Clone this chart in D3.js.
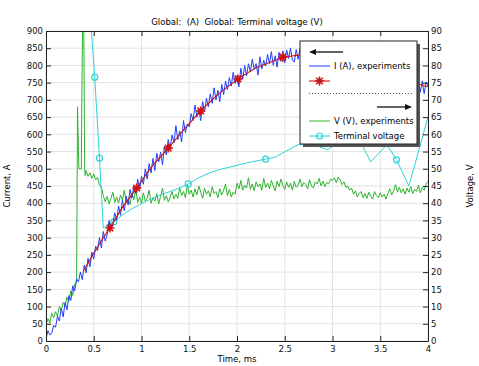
<!DOCTYPE html>
<html>
<head>
<meta charset="utf-8">
<script src="https://cdn.jsdelivr.net/npm/d3@7"></script>
<style>
  body { margin: 0; background: #fff; }
  svg { font-family: "DejaVu Sans", sans-serif; }
</style>
</head>
<body>
<svg id="chart" width="479" height="366"></svg>
<script>
// sample step of the experimental traces, ms
const tStep = 0.02;

// I (A), experiments: one value every 0.02 ms from 0 to 4 ms
const iExp = [
  5, 30, 18, 22, 45,      40, 72, 58, 95, 70,
  112, 90, 132, 118, 160, 145, 180, 172, 200, 178,
  220, 198, 240, 215, 258, 238, 275, 262, 300, 270,
  318, 290, 308, 350, 322, 340, 372, 350, 392, 365,
  408, 378, 420, 395, 440, 415, 450, 428, 470, 440,
  478, 455, 500, 470, 515, 488, 530, 495, 545, 520,
  548, 512, 565, 540, 585, 560, 598, 575, 625, 585,
  610, 578, 640, 605, 630, 622, 660, 640, 685, 650,
  672, 640, 695, 665, 705, 680, 718, 690, 735, 700,
  728, 695, 745, 715, 755, 730, 765, 740, 780, 748,
  770, 738, 792, 760, 800, 770, 805, 782, 818, 790,
  805, 772, 825, 790, 815, 798, 832, 805, 840, 800,
  828, 795, 838, 812, 842, 808, 845, 820, 850, 815,
  810, 846, 818, 850, 822, 848, 812, 852, 820, 846,
  815, 850, 822, 848, 810, 845, 808, 842, 812, 838,
  805, 840, 810, 835, 800, 832, 795, 828, 800, 822,
  790, 825, 795, 818, 782, 815, 778, 810, 782, 805,
  770, 805, 775, 798, 762, 795, 758, 790, 762, 785,
  750, 785, 755, 778, 742, 775, 738, 770, 742, 768,
  732, 765, 738, 760, 728, 758, 722, 755, 718, 752,
  740
];

// V (V), experiments: 0 .. 0.30 ms, every 0.02 ms
const vEarly = [4.5, 6.5, 5.2, 8.0, 6.8, 8.5, 7.2, 10.0, 8.8, 11.2, 10.0, 12.8, 11.5, 14.5, 13.2, 16.5];
// switching spike
const vSpikeT = [0.32, 0.325, 0.33, 0.34, 0.345, 0.37, 0.375, 0.385, 0.395, 0.405, 0.41];
const vSpikeV = [17, 40, 68, 55, 50, 50, 70, 96, 96, 50, 48];
// 0.42 .. 4.00 ms, every 0.02 ms
const vLateStart = 0.42;
const vLate = [
  49.5, 47.8, 48.8, 47.2, 48.5, 46.8, 47.5, 45.2, 44.8,
  42.2, 40.4, 42.0, 39.8, 41.4, 43.2, 40.2, 41.8, 40.0, 42.4, 40.8, 43.8, 40.4, 41.2, 39.6, 42.8, 41.0, 44.2, 40.2, 41.8,
  40.0, 43.0, 40.6, 41.4, 43.8, 40.0, 41.6, 40.6, 42.8, 39.8, 42.0, 44.4, 40.8, 42.2, 40.4, 41.8, 43.4, 41.2, 42.6, 41.4,
  44.6, 42.2, 43.4, 41.6, 45.4, 42.6, 43.8, 41.8, 44.2, 42.4, 45.0, 43.2, 41.4, 44.4, 42.6, 43.6, 41.8, 44.8, 42.8, 43.4,
  41.6, 44.2, 42.4, 43.8, 45.6, 42.2, 44.0, 41.8, 43.2, 42.6, 45.8, 44.2, 46.6, 43.8, 45.2, 44.4, 47.4, 44.0, 45.6, 43.6,
  46.2, 44.8, 45.6, 43.8, 47.2, 44.6, 45.8, 44.2, 46.6, 45.0, 43.6, 46.4, 44.8, 47.0, 45.2, 44.0, 46.2, 44.6, 45.8, 43.8,
  46.4, 44.6, 45.2, 47.0, 44.8, 46.0, 45.4, 44.2, 46.8, 45.0, 44.4, 46.2, 45.6, 47.2, 45.0, 46.4, 44.8, 46.0, 45.6, 47.0,
  46.6, 47.4, 46.0, 47.6, 46.8, 45.4, 46.2, 44.6, 45.0, 43.8, 44.4, 42.6, 43.6, 41.8, 42.8, 43.4, 41.6, 42.8, 41.4, 43.2,
  42.0, 41.2, 43.4, 42.2, 41.6, 43.0, 41.8, 42.6, 41.2, 42.8, 44.2, 42.4, 43.6, 45.4, 43.2, 44.6, 43.0, 44.2, 42.6, 44.4,
  43.2, 44.8, 42.8, 44.0, 43.4, 45.2, 43.0, 44.6, 43.8, 45.6, 46.4
];

// model current (red, left axis)
const iModelT = [0.40, 0.50, 0.60, 0.67, 0.80, 0.95, 1.10, 1.28, 1.45, 1.62, 1.80, 2.01, 2.20, 2.48, 2.70, 3.00, 3.30, 3.60, 4.00];
const iModel  = [206, 255, 300, 328, 388, 444, 504, 560, 616, 668, 716, 761, 793, 824, 832, 826, 800, 770, 738];
const iModelMarks = [3, 5, 7, 9, 11, 13, 15];

// Terminal voltage (cyan, right axis)
const termT = [0.45, 0.51, 0.56, 0.60, 0.71, 0.80, 0.90, 1.00, 1.10, 1.20, 1.30, 1.40, 1.49, 1.60, 1.72, 1.85, 2.00, 2.15, 2.30, 2.40, 2.64, 2.80, 2.95, 3.10, 3.25, 3.40, 3.57, 3.67, 3.80, 4.00];
const termV = [100, 76.6, 53.1, 32.8, 34.6, 36.6, 38.4, 39.9, 41.3, 42.4, 43.4, 44.5, 45.6, 47.4, 48.9, 50.0, 51.0, 52.0, 52.8, 53.4, 57.0, 57.0, 55.5, 58.5, 60.0, 52.0, 57.0, 52.6, 45.0, 65.0];
const termMarks = [1, 2, 4, 12, 18, 27];

const xTicks = [0, 0.5, 1, 1.5, 2, 2.5, 3, 3.5, 4];
const iTicks = d3.range(0, 901, 50);
const vTicks = d3.range(0, 91, 5);

const titleText = "Global:  (A)  Global: Terminal voltage (V)";

const fs = 8.5;
const svg = d3.select("#chart");
const plotL = 46, plotR = 428, plotT = 31, plotB = 341;

const x = d3.scaleLinear().domain([0, 4]).range([plotL, plotR]);
const yI = d3.scaleLinear().domain([0, 900]).range([plotB, plotT]);
const yV = d3.scaleLinear().domain([0, 90]).range([plotB, plotT]);

svg.append("defs").append("clipPath").attr("id", "plotclip")
  .append("rect")
  .attr("x", plotL).attr("y", plotT)
  .attr("width", plotR - plotL).attr("height", plotB - plotT);

// grid
const grid = svg.append("g");
grid.selectAll(".gx").data(xTicks).enter().append("line")
  .attr("x1", d => x(d)).attr("x2", d => x(d))
  .attr("y1", plotT).attr("y2", plotB)
  .attr("stroke", "#e3e3e3");
grid.selectAll(".gy").data(iTicks).enter().append("line")
  .attr("x1", plotL).attr("x2", plotR)
  .attr("y1", d => yI(d)).attr("y2", d => yI(d))
  .attr("stroke", "#e3e3e3");

// data
const iData = iExp.map((v, i) => [i * tStep, v]);
const vData = vEarly.map((v, i) => [i * tStep, v])
  .concat(vSpikeT.map((t, i) => [t, vSpikeV[i]]))
  .concat(vLate.map((v, i) => [vLateStart + i * tStep, v]));
const modelData = iModelT.map((t, i) => [t, iModel[i]]);
const termData = termT.map((t, i) => [t, termV[i]]);

const plot = svg.append("g").attr("clip-path", "url(#plotclip)");

const lineI = d3.line().x(d => x(d[0])).y(d => yI(d[1]));
const lineV = d3.line().x(d => x(d[0])).y(d => yV(d[1]));

plot.append("path").datum(vData)
  .attr("d", lineV).attr("fill", "none")
  .attr("stroke", "#2fb32f").attr("stroke-width", 1);

plot.append("path").datum(termData)
  .attr("d", lineV).attr("fill", "none")
  .attr("stroke", "#2ed3d6").attr("stroke-width", 1);

plot.selectAll(".tmark").data(termMarks.map(i => termData[i])).enter()
  .append("circle")
  .attr("cx", d => x(d[0])).attr("cy", d => yV(d[1]))
  .attr("r", 3).attr("fill", "none")
  .attr("stroke", "#2ed3d6").attr("stroke-width", 1.2);

plot.append("path").datum(iData)
  .attr("d", lineI).attr("fill", "none")
  .attr("stroke", "#1f3ff5").attr("stroke-width", 1);

plot.append("path").datum(modelData)
  .attr("d", lineI).attr("fill", "none")
  .attr("stroke", "#d01010").attr("stroke-width", 1.1);

function starPath(cx, cy, r) {
  const a = r * 0.72;
  return `M${cx - r},${cy}L${cx + r},${cy}M${cx},${cy - r}L${cx},${cy + r}` +
    `M${cx - a},${cy - a}L${cx + a},${cy + a}M${cx - a},${cy + a}L${cx + a},${cy - a}`;
}

plot.selectAll(".imark").data(iModelMarks.map(i => modelData[i])).enter()
  .append("path")
  .attr("d", d => starPath(x(d[0]), yI(d[1]), 4.5))
  .attr("stroke", "#d01010").attr("stroke-width", 1.6);

// axes
function styleAxis(g) {
  g.attr("font-size", fs).attr("font-family", "DejaVu Sans, sans-serif");
  g.selectAll("text").attr("fill", "#111");
  g.selectAll("line").attr("stroke", "#222");
  g.select(".domain").attr("stroke", "#222");
}

svg.append("g").attr("transform", `translate(0,${plotB})`)
  .call(d3.axisBottom(x).tickValues(xTicks).tickSizeInner(-5).tickSizeOuter(0)
    .tickPadding(5).tickFormat(d3.format("")))
  .call(styleAxis);

svg.append("g").attr("transform", `translate(0,${plotT})`)
  .call(d3.axisTop(x).tickValues(xTicks).tickSizeInner(-5).tickSizeOuter(0).tickFormat(""))
  .call(styleAxis);

svg.append("g").attr("transform", `translate(${plotL},0)`)
  .call(d3.axisLeft(yI).tickValues(iTicks).tickSizeInner(-5).tickSizeOuter(0).tickPadding(3))
  .call(styleAxis);

svg.append("g").attr("transform", `translate(${plotR},0)`)
  .call(d3.axisRight(yV).tickValues(vTicks).tickSizeInner(-5).tickSizeOuter(0).tickPadding(3))
  .call(styleAxis);

// titles
svg.append("text")
  .attr("x", (plotL + plotR) / 2).attr("y", 25)
  .attr("text-anchor", "middle").attr("font-size", fs)
  .style("white-space", "pre")
  .text(titleText);

svg.append("text")
  .attr("x", (plotL + plotR) / 2).attr("y", 362)
  .attr("text-anchor", "middle").attr("font-size", fs)
  .text("Time, ms");

svg.append("text")
  .attr("transform", `translate(10,${(plotT + plotB) / 2}) rotate(-90)`)
  .attr("text-anchor", "middle").attr("font-size", fs)
  .text("Current, A");

svg.append("text")
  .attr("transform", `translate(473,${(plotT + plotB) / 2}) rotate(-90)`)
  .attr("text-anchor", "middle").attr("font-size", fs)
  .text("Voltage, V");

// legend
const lg = svg.append("g");
const lx = 300, ly = 41, lw = 117, lh = 103;
lg.append("rect").attr("x", lx + 3).attr("y", ly + 3)
  .attr("width", lw).attr("height", lh).attr("fill", "#555");
lg.append("rect").attr("x", lx).attr("y", ly)
  .attr("width", lw).attr("height", lh)
  .attr("fill", "#fff").attr("stroke", "#222").attr("stroke-width", 1);

const sx1 = 309, sx2 = 330, tx = 334;

// left-axis arrow
lg.append("line").attr("x1", 313).attr("x2", 343).attr("y1", 52).attr("y2", 52)
  .attr("stroke", "#111").attr("stroke-width", 1.3);
lg.append("path").attr("d", "M309,52L316,49L316,55Z").attr("fill", "#111");

lg.append("line").attr("x1", sx1).attr("x2", sx2).attr("y1", 66).attr("y2", 66)
  .attr("stroke", "#1f3ff5");
lg.append("text").attr("x", tx).attr("y", 69).attr("font-size", fs).text("I (A), experiments");

lg.append("line").attr("x1", sx1).attr("x2", sx2).attr("y1", 81).attr("y2", 81)
  .attr("stroke", "#d01010").attr("stroke-width", 1.1);
lg.append("path").attr("d", starPath((sx1 + sx2) / 2, 81, 4.5))
  .attr("stroke", "#d01010").attr("stroke-width", 1.6);

lg.append("line").attr("x1", 309).attr("x2", 412).attr("y1", 93.5).attr("y2", 93.5)
  .attr("stroke", "#555").attr("stroke-dasharray", "1,2");

// right-axis arrow
lg.append("line").attr("x1", 377).attr("x2", 408).attr("y1", 107).attr("y2", 107)
  .attr("stroke", "#111").attr("stroke-width", 1.3);
lg.append("path").attr("d", "M412,107L405,104L405,110Z").attr("fill", "#111");

lg.append("line").attr("x1", sx1).attr("x2", sx2).attr("y1", 121).attr("y2", 121)
  .attr("stroke", "#2fb32f");
lg.append("text").attr("x", tx).attr("y", 124).attr("font-size", fs).text("V (V), experiments");

lg.append("line").attr("x1", sx1).attr("x2", sx2).attr("y1", 136).attr("y2", 136)
  .attr("stroke", "#2ed3d6");
lg.append("circle").attr("cx", (sx1 + sx2) / 2).attr("cy", 136).attr("r", 3)
  .attr("fill", "none").attr("stroke", "#2ed3d6").attr("stroke-width", 1.2);
lg.append("text").attr("x", tx).attr("y", 139).attr("font-size", fs).text("Terminal voltage");
</script>
</body>
</html>
